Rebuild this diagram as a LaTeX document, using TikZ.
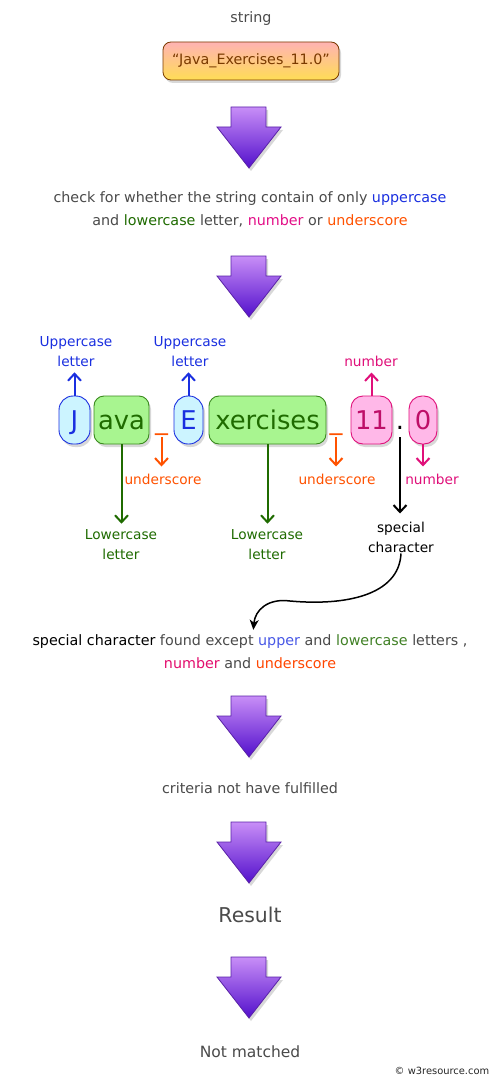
\documentclass[tikz,border=0pt]{standalone}
\usepackage{fontspec}
\setmainfont{DejaVu Sans}
\usetikzlibrary{arrows.meta}
\usetikzlibrary{shadows}

\definecolor{txtgray}{HTML}{4A4A4A}
\definecolor{upcol}{HTML}{1A2FE0}
\definecolor{lowcol}{HTML}{1F6B00}
\definecolor{numcol}{HTML}{E0107A}
\definecolor{uscol}{HTML}{FF5200}
\definecolor{upfill}{HTML}{CCF4FF}
\definecolor{lowfill}{HTML}{A8F590}
\definecolor{lowline}{HTML}{3A8A1E}
\definecolor{numfill}{HTML}{FFB8E8}
\definecolor{strtop}{HTML}{FFB3B3}
\definecolor{strbot}{HTML}{FFDD55}
\definecolor{strline}{HTML}{7A3A00}
\definecolor{arrtop}{HTML}{C88EF7}
\definecolor{arrbot}{HTML}{5310CC}
\definecolor{arrline}{HTML}{5A22A8}

\begin{document}
\begin{tikzpicture}[x=1pt,y=-1pt,
            lbl/.style={font=\fontsize{14.3}{23}\selectfont, text=txtgray, align=center, inner sep=1pt},
            small/.style={font=\fontsize{13.7}{20}\selectfont, align=center, inner sep=1pt},
            shade/.style={drop shadow={opacity=0.3, shadow xshift=2pt, shadow yshift=-3pt}},
            tok/.style={shade, font=\fontsize{25.8}{30}\selectfont, text height=21pt, text depth=3pt,
                inner ysep=12pt, inner xsep=3pt, rounded corners=10pt, line width=0.9pt},
            upbox/.style={tok, draw=upcol, fill=upfill, text=upcol, rounded corners=14pt},
            lowbox/.style={tok, draw=lowline, fill=lowfill, text=lowcol},
            numbox/.style={tok, draw=numcol, fill=numfill, text=numcol!85!black, rounded corners=12pt},
            usmark/.style={font=\fontsize{25.8}{30}\selectfont, text=uscol, inner sep=0pt, anchor=base},
            pointer/.style={-{Straight Barb[length=7pt,width=13pt,line width=2pt]}, line width=2pt},
            bigarrow/.style={shade, draw=arrline, line width=0.8pt, top color=arrtop, bottom color=arrbot}]
            \useasboundingbox[fill=white] (0,0) rectangle (503,1086);

            \node[lbl] (strlbl) at (251,19) {string};
            \node[shade, draw=strline, line width=0.8pt, rounded corners=8pt, top color=strtop, bottom color=strbot,
                minimum width=176pt, minimum height=38pt, text=strline, font=\fontsize{14.3}{18}\selectfont]
                (strng) at (251,61) {“Java\_Exercises\_11.0”};

            \foreach \y in {107,256,696,822,957}
                \path[bigarrow] (231,\y) -- (266,\y) -- (266,\y+20) -- (281,\y+20) -- (249,\y+61)
                    -- (217,\y+20) -- (231,\y+20) -- cycle;

            \node[lbl] (check) at (250,209) {check for whether the string contain of only \textcolor{upcol}{uppercase}\\
                and \textcolor{lowcol}{lowercase} letter, \textcolor{numcol!90!magenta}{number} or \textcolor{uscol}{underscore}};

            \node[upbox, minimum width=31pt] (J) at (74.5,420) {J};
            \node[lowbox, minimum width=55pt] (ava) at (121.5,420) {ava};
            \node[usmark] (us1) at (161.5,429) {\_};
            \node[upbox, minimum width=29pt] (E) at (188.5,420) {E};
            \node[lowbox, minimum width=117pt] (xer) at (267.5,420) {xercises};
            \node[usmark] (us2) at (336,429) {\_};
            \node[numbox, minimum width=41pt] (n11) at (371.5,420) {11};
            \node[usmark, text=black] (dot) at (400,429) {.};
            \node[numbox, minimum width=28pt, rounded corners=13pt] (n0) at (423,420) {0};

            \node[small, text=upcol] (lbJ) at (76,352) {Uppercase\\letter};
            \node[small, text=upcol] (lbE) at (190,352) {Uppercase\\letter};
            \node[small, text=numcol] (lbn11) at (371,361) {number};
            \node[small, text=lowcol] (lbava) at (121,545) {Lowercase\\letter};
            \node[small, text=lowcol] (lbxer) at (267,545) {Lowercase\\letter};
            \node[small, text=uscol] (lbus1) at (163,479) {underscore};
            \node[small, text=uscol] (lbus2) at (337,479) {underscore};
            \node[small, text=numcol] (lbn0) at (432,479) {number};
            \node[small, text=black] (lbdot) at (401,537) {special\\character};

            \draw[pointer, upcol, shorten >=4pt] (J.north) -- (J.north |- lbJ.south);
            \draw[pointer, upcol, shorten >=4pt] (E.north) -- (E.north |- lbE.south);
            \draw[pointer, numcol, shorten >=5pt] (n11.north) -- (n11.north |- lbn11.south);
            \draw[pointer, lowcol, shorten >=5pt] (ava.south) -- (ava.south |- lbava.north);
            \draw[pointer, lowcol, shorten >=5pt] (xer.south) -- (xer.south |- lbxer.north);
            \draw[pointer, uscol, shorten <=2pt, shorten >=6pt] (us1.south) -- (us1.south |- lbus1.north);
            \draw[pointer, uscol, shorten <=2pt, shorten >=6pt] (us2.south) -- (us2.south |- lbus2.north);
            \draw[pointer, numcol, shorten >=6pt] (n0.south) -- (n0.south |- lbn0.north);
            \draw[pointer, black, shorten <=8pt, shorten >=7pt] (dot.south) -- (dot.south |- lbdot.north);

            \node[lbl] (found) at (250,652) {\textcolor{black}{special character} found except \textcolor{upcol!80!white}{upper} and \textcolor{lowcol!85!white}{lowercase} letters ,\\
                \textcolor{numcol!90!red}{number} and \textcolor{uscol!85!red}{underscore}};
            \draw[-{Stealth[length=10pt,width=9pt,inset=3pt]}, line width=1.5pt, shorten >=4pt]
                (lbdot.south) .. controls +(-2,42) and (345,606) .. (290,601)
                .. controls (268,598) and (255,610) .. ([xshift=3pt]found.north);

            \node[lbl] (crit) at (250,788) {criteria not have fulfilled};
            \node[lbl, font=\fontsize{20.4}{24}\selectfont] (res) at (250,915) {Result};
            \node[lbl, font=\fontsize{15.5}{20}\selectfont] (nm) at (250,1052) {Not matched};
            \node[lbl, text=black!85, font=\fontsize{9.9}{12}\selectfont] (copy) at (442,1071) {© w3resource.com};
        \end{tikzpicture}
\end{document}
